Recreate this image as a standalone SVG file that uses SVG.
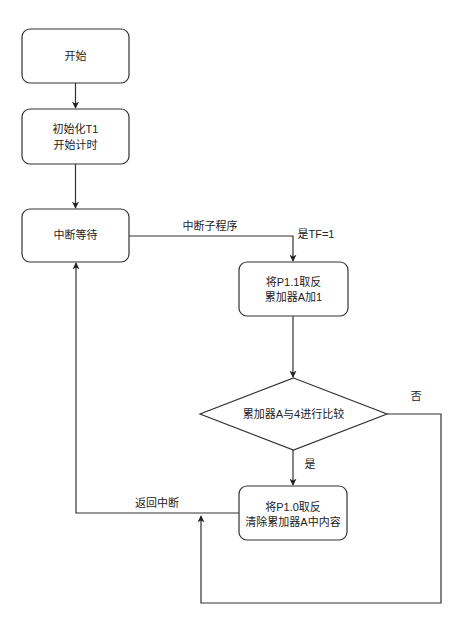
<svg xmlns="http://www.w3.org/2000/svg" width="474" height="636" viewBox="0 0 474 636">
<style>
.n{fill:#fff;stroke:#333;stroke-width:1.2}
.t{font-family:"Liberation Sans","Noto Sans CJK SC",sans-serif;font-size:11px;fill:#222;text-anchor:middle;dominant-baseline:central}
.c{fill:none;stroke:#333;stroke-width:1.2}
</style>
<defs>
<marker id="a" viewBox="0 0 10 10" refX="9" refY="5" markerWidth="7" markerHeight="7" orient="auto" markerUnits="userSpaceOnUse">
<path d="M0,0 L10,5 L0,10 L2.5,5 z" fill="#222"/>
</marker>
</defs>
<rect width="474" height="636" fill="#fff"/>
<g id="connectors">
<path class="c" d="M75.5,83 V108" marker-end="url(#a)"/>
<path class="c" d="M75.5,164 V208" marker-end="url(#a)"/>
<path class="c" d="M129,236 H293 V261" marker-end="url(#a)"/>
<path class="c" d="M293,316 V377" marker-end="url(#a)"/>
<path class="c" d="M293,450 V485" marker-end="url(#a)"/>
<path class="c" d="M387,414 H441 V603 H201 V516" marker-end="url(#a)"/>
<path class="c" d="M239,513 H76 V263" marker-end="url(#a)"/>
<text class="t" x="210" y="226">中断子程序</text>
<text class="t" x="316" y="234">是TF=1</text>
<text class="t" x="310" y="464">是</text>
<text class="t" x="416" y="396">否</text>
<text class="t" x="157" y="503">返回中断</text>
</g>
<g id="start">
<rect class="n" x="22" y="29" width="107" height="54" rx="8"/>
<text class="t" x="75.5" y="56">开始</text>
</g>
<g id="init">
<rect class="n" x="22" y="109" width="107" height="55" rx="8"/>
<text class="t" x="75.5" y="129">初始化T1</text>
<text class="t" x="75.5" y="145">开始计时</text>
</g>
<g id="wait">
<rect class="n" x="22" y="209" width="107" height="53" rx="8"/>
<text class="t" x="75.5" y="235">中断等待</text>
</g>
<g id="toggle11">
<rect class="n" x="239" y="262" width="109" height="54" rx="8"/>
<text class="t" x="293.5" y="282">将P1.1取反</text>
<text class="t" x="293.5" y="297">累加器A加1</text>
</g>
<g id="compare">
<path class="n" d="M293.5,378 L387,414 L293.5,450 L200,414 Z"/>
<text class="t" x="293.5" y="414">累加器A与4进行比较</text>
</g>
<g id="toggle10">
<rect class="n" x="239" y="486" width="108" height="54" rx="8"/>
<text class="t" x="293" y="507">将P1.0取反</text>
<text class="t" x="293" y="522">清除累加器A中内容</text>
</g>
</svg>
